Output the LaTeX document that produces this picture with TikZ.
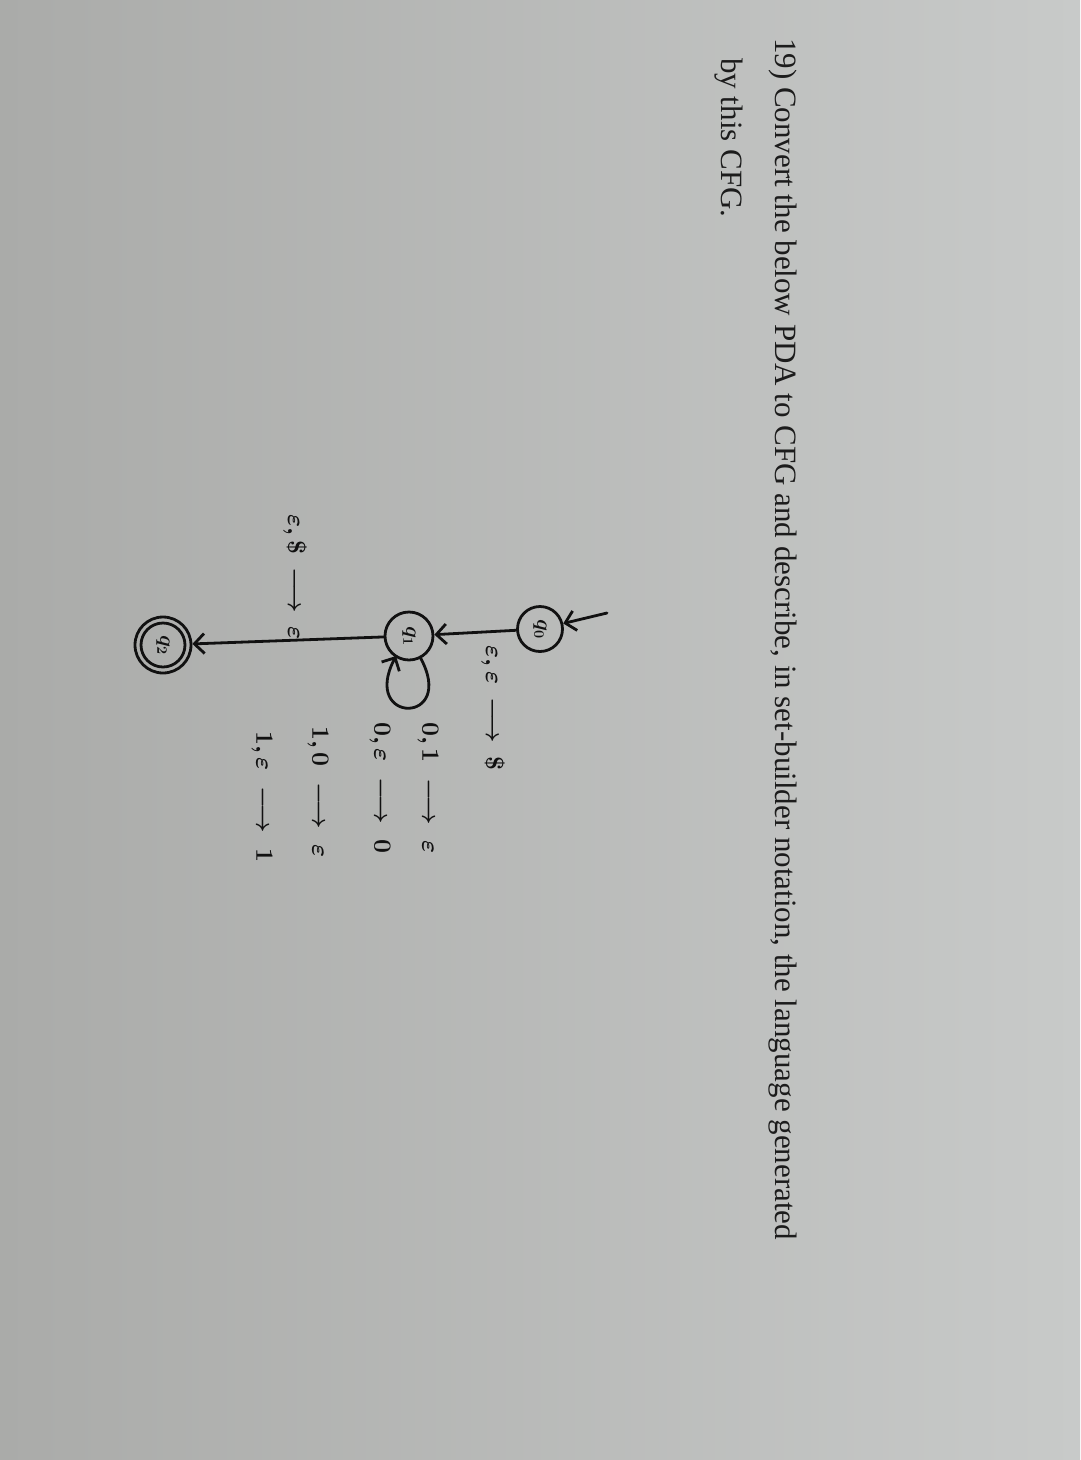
\documentclass[tikz,border=0pt]{standalone}
\usepackage{fontspec}
\setmainfont{Liberation Serif}
\usetikzlibrary{arrows.meta,calc}
\definecolor{pageL}{RGB}{170,171,169}
\definecolor{pageR}{RGB}{200,202,201}
\definecolor{printink}{RGB}{28,28,28}
\definecolor{pen}{RGB}{17,17,17}
\tikzset{
  ink/.style={line width=2.8pt, draw=pen, line cap=round},
  state/.style={circle, ink, inner sep=0pt, rotate=-90, text=pen,
    font=\fontsize{22}{22}\selectfont\boldmath},
  arr/.style={ink, -{Straight Barb[length=10pt,width=20pt,line width=2.8pt]}},
  printed/.style={anchor=base west, rotate=-90, inner sep=0pt, text=printink,
    font=\fontsize{31}{31}\selectfont},
  hand/.style={rotate=-90, inner sep=0pt, text=pen, font=\fontsize{33}{33}\selectfont\boldmath},
}
\begin{document}
\begin{tikzpicture}[x=1pt,y=-1pt]
\shade[left color=pageL, right color=pageR] (0,0) rectangle (1080,1460);
\useasboundingbox (0,0) rectangle (1080,1460);

% printed question
\node[printed] (line1) at (775,38) {19) Convert the below PDA to CFG and describe, in set-builder notation, the language generated};
\node[printed] (line2) at (721,58) {by this CFG.};

% states
\node[state, minimum size=45pt] (q0) at (540,629) {$q_0$};
\node[state, minimum size=48pt] (q1) at (409,636) {$q_1$};
\node[state, minimum size=56pt] (q2) at (163,645) {$q_2$};
\draw[ink] (q2.center) circle (22);

% start arrow
\coordinate (s) at (607,613);
\draw[arr] (s) -- (q0);

% transitions
\draw[arr] (q0) -- (q1);
\draw[arr] (q1) -- (q2);
\draw[arr] ($(q1.center)+(11,21)$) .. controls (458,725) and (360,725) .. ($(q1.center)+(-13,20)$);

% labels
\node[hand] (l01) at (493,708) {$\varepsilon,\varepsilon\,\longrightarrow\,\$$};
\node[hand] (l11a) at (428,788) {$0,1\;\longrightarrow\;\varepsilon$};
\node[hand] (l11b) at (380,788) {$0,\varepsilon\;\longrightarrow\;0$};
\node[hand] (l11c) at (318,792) {$1,0\;\longrightarrow\;\varepsilon$};
\node[hand] (l11d) at (262,797) {$1,\varepsilon\;\longrightarrow\;1$};
\node[hand] (l12) at (295,577) {$\varepsilon,\$\,\longrightarrow\,\varepsilon$};
\end{tikzpicture}
\end{document}
